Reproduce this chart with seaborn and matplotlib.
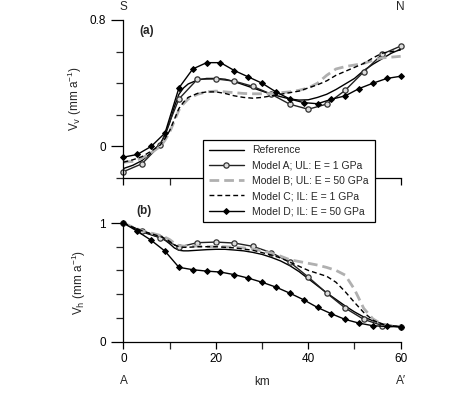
import numpy as np
import matplotlib
matplotlib.use('Agg')
import matplotlib.pyplot as plt
import matplotlib.transforms as mtrans
from matplotlib.ticker import MultipleLocator
import seaborn as sns

sns.set_style('ticks')
plt.rcParams['font.family'] = ['Liberation Sans', 'DejaVu Sans']
plt.rcParams['mathtext.default'] = 'regular'

# distance along profile (km)
km_A = [0, 4, 8, 12, 16, 20, 24, 28, 32, 36, 40, 44, 48, 52, 56, 60]
km_D = [0, 3, 6, 9, 12, 15, 18, 21, 24, 27, 30, 33, 36, 39, 42, 45, 48, 51, 54, 57, 60]
km_line = [0, 2, 4, 6, 8, 9, 10, 11, 12, 13, 14, 16, 18, 20, 22, 24, 26, 28, 30,
           32, 34, 36, 38, 40, 42, 44, 46, 48, 50, 52, 54, 56, 58, 60]

# (a) vertical velocity
vv_ref = [-0.14, -0.12, -0.09, -0.04, 0.02, 0.07, 0.15, 0.25, 0.33, 0.37, 0.395, 0.42,
          0.43, 0.43, 0.425, 0.41, 0.39, 0.37, 0.35, 0.33, 0.315, 0.30, 0.293, 0.295,
          0.31, 0.33, 0.36, 0.395, 0.43, 0.48, 0.52, 0.555, 0.59, 0.615]
vv_A = [-0.16, -0.11, 0.01, 0.30, 0.425, 0.427, 0.413, 0.38, 0.33, 0.267, 0.235,
        0.268, 0.355, 0.472, 0.584, 0.635]
vv_B = [-0.10, -0.095, -0.075, -0.04, 0.0, 0.04, 0.09, 0.16, 0.23, 0.27, 0.30, 0.33,
        0.345, 0.35, 0.345, 0.34, 0.335, 0.333, 0.333, 0.335, 0.34, 0.345, 0.355, 0.37,
        0.40, 0.45, 0.49, 0.505, 0.515, 0.525, 0.545, 0.56, 0.565, 0.57]
vv_C = [-0.10, -0.085, -0.065, -0.03, 0.01, 0.05, 0.10, 0.17, 0.24, 0.28, 0.31, 0.335,
        0.345, 0.345, 0.335, 0.32, 0.31, 0.305, 0.31, 0.32, 0.33, 0.34, 0.35, 0.37,
        0.39, 0.415, 0.45, 0.475, 0.50, 0.525, 0.56, 0.59, 0.60, 0.61]
vv_D = [-0.068, -0.051, 0.0, 0.085, 0.37, 0.49, 0.53, 0.53, 0.48, 0.44, 0.40, 0.345,
        0.30, 0.277, 0.27, 0.298, 0.32, 0.366, 0.40, 0.43, 0.444]

# (b) horizontal velocity
vh_ref = [1.0, 0.96, 0.925, 0.9, 0.875, 0.855, 0.825, 0.79, 0.77, 0.765, 0.765, 0.77,
          0.775, 0.778, 0.778, 0.772, 0.765, 0.752, 0.735, 0.71, 0.68, 0.64, 0.59, 0.53,
          0.47, 0.41, 0.355, 0.30, 0.25, 0.207, 0.175, 0.15, 0.135, 0.125]
vh_A = [1.0, 0.932, 0.876, 0.797, 0.834, 0.839, 0.831, 0.803, 0.75, 0.67, 0.544,
        0.408, 0.282, 0.187, 0.135, 0.124]
vh_B = [1.0, 0.965, 0.935, 0.915, 0.895, 0.88, 0.86, 0.83, 0.81, 0.805, 0.805, 0.805,
        0.80, 0.80, 0.80, 0.795, 0.79, 0.78, 0.765, 0.745, 0.72, 0.69, 0.675, 0.66,
        0.645, 0.625, 0.60, 0.56, 0.44, 0.28, 0.19, 0.145, 0.13, 0.125]
vh_C = [1.0, 0.965, 0.935, 0.91, 0.885, 0.87, 0.845, 0.815, 0.80, 0.795, 0.795, 0.80,
        0.80, 0.80, 0.795, 0.79, 0.78, 0.77, 0.75, 0.73, 0.705, 0.67, 0.635, 0.60,
        0.575, 0.55, 0.50, 0.42, 0.33, 0.245, 0.18, 0.145, 0.13, 0.125]
vh_D = [1.0, 0.93, 0.854, 0.762, 0.626, 0.606, 0.594, 0.586, 0.564, 0.535, 0.50,
        0.459, 0.408, 0.352, 0.287, 0.234, 0.186, 0.155, 0.133, 0.127, 0.124]

labels = ['Reference', 'Model A; UL: E = 1 GPa', 'Model B; UL: E = 50 GPa',
          'Model C; IL: E = 1 GPa', 'Model D; IL: E = 50 GPa']

fig = plt.figure(figsize=(4.74, 3.99), dpi=100)
ax1 = fig.add_axes([0.2605, 0.5539, 0.5848, 0.396])
ax2 = fig.add_axes([0.2605, 0.1441, 0.5848, 0.297])


def draw(ax, ref, a, b, c, d):
    sns.lineplot(x=km_line, y=ref, ax=ax, color='black', lw=1.0, label=labels[0])
    sns.lineplot(x=km_A, y=a, ax=ax, color='#222222', lw=1.0, marker='o', ms=3.8,
                 mfc='#dcdcdc', mec='#333333', mew=0.9, label=labels[1], clip_on=False)
    sns.lineplot(x=km_line, y=b, ax=ax, color='#b0b0b0', lw=2.0, dashes=(3.5, 1.8),
                 label=labels[2])
    sns.lineplot(x=km_line, y=c, ax=ax, color='black', lw=1.0, dashes=(3.5, 2.2),
                 label=labels[3])
    sns.lineplot(x=km_D, y=d, ax=ax, color='black', lw=1.0, marker='D', ms=3.0,
                 mfc='black', mec='black', label=labels[4], clip_on=False)
    ax.set_xlim(0, 60)
    ax.legend_.remove()
    sns.despine(ax=ax)
    ax.xaxis.set_major_locator(MultipleLocator(20))
    ax.xaxis.set_minor_locator(MultipleLocator(10))
    ax.tick_params(axis='x', which='both', length=5, width=0.9, direction='out')
    ax.tick_params(axis='y', which='major', length=9, width=0.9)
    ax.tick_params(axis='y', which='minor', length=5, width=0.9)
    ax.tick_params(labelsize=8.5, colors='black')
    for s in ax.spines.values():
        s.set_linewidth(0.9)
        s.set_color('black')


draw(ax1, vv_ref, vv_A, vv_B, vv_C, vv_D)
draw(ax2, vh_ref, vh_A, vh_B, vh_C, vh_D)

ax1.set_ylim(-0.2, 0.8)
ax1.yaxis.set_major_locator(MultipleLocator(0.8))
ax1.yaxis.set_minor_locator(MultipleLocator(0.2))
ax1.yaxis.set_major_formatter(lambda v, p: '0' if abs(v) < 1e-9 else f'{v:.1f}')
ax1.tick_params(axis='x', labelbottom=False)
ax1.set_ylabel(r'V$_\mathrm{v}$ (mm a$^{-1}$)', fontsize=8.5)

ax2.set_ylim(0, 1)
ax2.yaxis.set_major_locator(MultipleLocator(1))
ax2.yaxis.set_minor_locator(MultipleLocator(0.2))
ax2.yaxis.set_major_formatter(lambda v, p: f'{v:.0f}')
ax2.set_ylabel(r'V$_\mathrm{h}$ (mm a$^{-1}$)', fontsize=8.5, labelpad=8)
ax2.set_xlabel('km', fontsize=8.5, labelpad=8)

ax1.text(0.058, 0.93, '(a)', transform=ax1.transAxes, fontsize=8.5,
         fontweight='bold', ha='left', va='center')
ax2.text(0.045, 1.1, '(b)', transform=ax2.transAxes, fontsize=8.5,
         fontweight='bold', ha='left', va='center')

tr1 = mtrans.blended_transform_factory(ax1.transData, ax1.transAxes)
ax1.text(0, 1.085, 'S', transform=tr1, fontsize=8.5, ha='center', va='center')
ax1.text(60, 1.085, 'N', transform=tr1, fontsize=8.5, ha='center', va='center')
tr2 = mtrans.blended_transform_factory(ax2.transData, ax2.transAxes)
ax2.text(0, -0.335, 'A', transform=tr2, fontsize=8.5, ha='center', va='center')
ax2.text(60, -0.335, 'A\u2032', transform=tr2, fontsize=8.5, ha='center', va='center')

handles, labs = ax1.get_legend_handles_labels()
leg = fig.legend(handles, labs, loc='upper left', bbox_to_anchor=(0.428, 0.65),
                 fontsize=7.5, frameon=True, fancybox=False, edgecolor='black',
                 framealpha=1, handlelength=3.4, borderpad=0.55, labelspacing=0.5,
                 handletextpad=0.8, borderaxespad=0)
leg.get_frame().set_linewidth(0.9)

fig.savefig('out.png', dpi=100)
